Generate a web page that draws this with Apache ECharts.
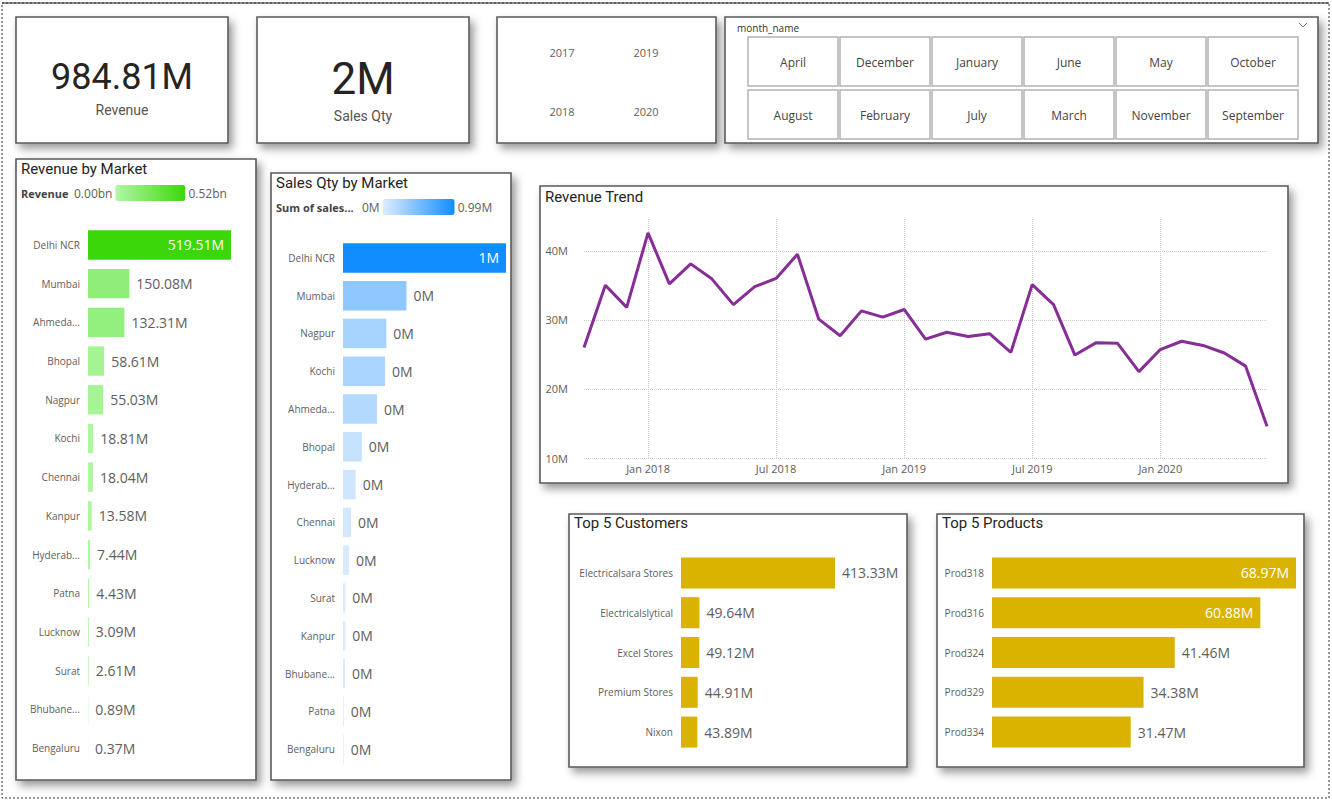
<!DOCTYPE html>
<html><head><meta charset="utf-8">
<script src="https://cdn.jsdelivr.net/npm/echarts@6/dist/echarts.min.js"></script>
<style>html,body{margin:0;padding:0;background:#fff}#c{width:1332px;height:801px}</style>
</head><body><div id="c"></div>
<script>
// ---------- data ----------
const kpiRevenue = '984.81M';
const kpiQty = '2M';
const years = ['2017', '2018', '2019', '2020'];
const monthNames = ['April', 'August', 'December', 'February', 'January', 'July', 'June', 'March', 'May', 'November', 'October', 'September'];

const revMarkets = ['Delhi NCR', 'Mumbai', 'Ahmedabad', 'Bhopal', 'Nagpur', 'Kochi', 'Chennai', 'Kanpur', 'Hyderabad', 'Patna', 'Lucknow', 'Surat', 'Bhubaneshwar', 'Bengaluru'];
const revValues = [519.51, 150.08, 132.31, 58.61, 55.03, 18.81, 18.04, 13.58, 7.44, 4.43, 3.09, 2.61, 0.89, 0.37];

const qtyMarkets = ['Delhi NCR', 'Mumbai', 'Nagpur', 'Kochi', 'Ahmedabad', 'Bhopal', 'Hyderabad', 'Chennai', 'Lucknow', 'Surat', 'Kanpur', 'Bhubaneshwar', 'Patna', 'Bengaluru'];
const qtyValues = [989000, 385000, 263000, 255000, 206000, 114000, 77000, 49000, 36000, 14000, 14000, 12000, 5000, 4000];

const trendMonths = ['Oct 2017', 'Nov 2017', 'Dec 2017',
  'Jan 2018', 'Feb 2018', 'Mar 2018', 'Apr 2018', 'May 2018', 'Jun 2018', 'Jul 2018', 'Aug 2018', 'Sep 2018', 'Oct 2018', 'Nov 2018', 'Dec 2018',
  'Jan 2019', 'Feb 2019', 'Mar 2019', 'Apr 2019', 'May 2019', 'Jun 2019', 'Jul 2019', 'Aug 2019', 'Sep 2019', 'Oct 2019', 'Nov 2019', 'Dec 2019',
  'Jan 2020', 'Feb 2020', 'Mar 2020', 'Apr 2020', 'May 2020', 'Jun 2020'];
const trendValues = [26.0, 35.0, 31.8,
  42.6, 35.2, 38.1, 35.9, 32.2, 34.8, 36.0, 39.5, 30.1, 27.7, 31.3, 30.4,
  31.5, 27.2, 28.2, 27.6, 28.0, 25.3, 35.1, 32.2, 24.9, 26.7, 26.6, 22.5,
  25.7, 26.9, 26.3, 25.2, 23.3, 14.6];

const customers = ['Electricalsara Stores', 'Electricalslytical', 'Excel Stores', 'Premium Stores', 'Nixon'];
const customerValues = [413.33, 49.64, 49.12, 44.91, 43.89];

const products = ['Prod318', 'Prod316', 'Prod324', 'Prod329', 'Prod334'];
const productValues = [68.97, 60.88, 41.46, 34.38, 31.47];

// ---------- styles ----------
const UI = "'Segoe UI', 'Open Sans', sans-serif";
const DIN = "'DIN', Roboto, sans-serif";
const GREY = '#605E5C';
const GOLD = '#D9B300';

function pairData(values, cats, insideFrac) {
  const max = Math.max(...values);
  return values.map((v, i) => {
    const d = { value: [v, cats[i]] };
    if (insideFrac && v >= insideFrac * max) d.label = { position: 'insideRight', color: '#fff' };
    return d;
  });
}
function catAxis(gi, data, truncate) {
  return {
    type: 'category', gridIndex: gi, data: data, inverse: true,
    axisLine: { show: false }, axisTick: { show: false }, splitLine: { show: false },
    axisLabel: Object.assign({ color: GREY, fontSize: 10, fontFamily: UI, margin: 8 },
      truncate ? { width: 52, overflow: 'truncate', ellipsis: '...' } : {})
  };
}
function valAxis(gi) {
  return { type: 'value', gridIndex: gi, min: 0, max: 'dataMax', show: false };
}
const barLabel = { show: true, position: 'right', distance: 7, color: GREY, fontSize: 14, fontFamily: UI };

// ---------- graphic (panels & text) ----------
const panels = [
  [16, 17, 212, 126], [257, 17, 212, 126], [497, 17, 219, 126], [725, 17, 593, 126],
  [16, 159, 240, 621], [271, 173, 240, 607], [540, 186, 748, 297], [569, 514, 338, 253], [937, 514, 367, 253]
];
const g = [];
g.push({ type: 'rect', silent: true, z: -20, shape: { x: 2, y: 3, width: 1327, height: 795 },
  style: { fill: 'none', stroke: '#333', lineWidth: 1, lineDash: [2, 2] } });
g.push({ type: 'line', silent: true, z: -19, shape: { x1: 2, y1: 3, x2: 1329, y2: 3 }, style: { stroke: '#222', lineWidth: 1.2 } });
panels.forEach(p => g.push({ type: 'rect', silent: true, z: -10,
  shape: { x: p[0], y: p[1], width: p[2], height: p[3] },
  style: { fill: '#fff', stroke: '#5a5a5a', lineWidth: 1.6, shadowBlur: 9, shadowOffsetX: 4, shadowOffsetY: 5, shadowColor: 'rgba(0,0,0,0.4)' } }));
function txt(x, y, text, font, fill, align) {
  return { type: 'text', silent: true, z: 10, x: x, y: y,
    style: { text: text, font: font, fill: fill, textAlign: align || 'left', textVerticalAlign: 'middle' } };
}
// KPI cards
g.push(txt(122, 77, kpiRevenue, '36px ' + DIN, '#252423', 'center'));
g.push(txt(122, 110, 'Revenue', '14px ' + DIN, '#555', 'center'));
g.push(txt(363, 79, kpiQty, '44px ' + DIN, '#252423', 'center'));
g.push(txt(363, 116, 'Sales Qty', '14px ' + DIN, '#555', 'center'));
// year slicer
years.forEach((y, i) => {
  const col = Math.floor(i / 2), row = i % 2;
  g.push(txt(562 + col * 84, 52 + row * 59, y, '11px ' + UI, GREY, 'center'));
});
// month slicer
g.push(txt(737, 28, 'month_name', '10px ' + UI, '#333', 'left'));
g.push({ type: 'polyline', silent: true, z: 10, shape: { points: [[1299, 23], [1303, 27], [1307, 23]] }, style: { stroke: '#777', fill: 'none', lineWidth: 1 } });
monthNames.forEach((m, i) => {
  const col = Math.floor(i / 2), row = i % 2;
  const x = 748 + col * 92, y = 37 + row * 53;
  g.push({ type: 'rect', silent: true, z: 5, shape: { x: x, y: y, width: 90, height: 49 },
    style: { fill: '#fff', stroke: '#b3b3b3', lineWidth: 1.5 } });
  g.push(txt(x + 45, y + 25, m, '12px ' + UI, '#444', 'center'));
});
// titles
const TF = '15px ' + DIN;
g.push(txt(21, 169, 'Revenue by Market', TF, '#252423'));
g.push(txt(276, 183, 'Sales Qty by Market', TF, '#252423'));
g.push(txt(545, 197, 'Revenue Trend', TF, '#252423'));
g.push(txt(574, 523, 'Top 5 Customers', TF, '#252423'));
g.push(txt(942, 523, 'Top 5 Products', TF, '#252423'));
// legend captions
g.push(txt(21, 193, 'Revenue', 'bold 11px ' + UI, '#444'));
g.push(txt(276, 207, 'Sum of sales...', 'bold 11px ' + UI, '#444'));

const halfYear = (i, v) => v.startsWith('Jan') || v.startsWith('Jul');

const option = {
  animation: false,
  backgroundColor: '#fff',
  graphic: { elements: g },
  grid: [
    { left: 88, top: 225.6, width: 143, height: 541.8 },
    { left: 343, top: 239, width: 163, height: 529 },
    { left: 584, top: 219, width: 683, height: 239 },
    { left: 681, top: 553, width: 154, height: 199 },
    { left: 992, top: 553, width: 304, height: 199 }
  ],
  xAxis: [
    valAxis(0), valAxis(1),
    { type: 'category', gridIndex: 2, data: trendMonths, boundaryGap: false,
      axisLine: { show: false }, axisTick: { show: false },
      axisLabel: { interval: halfYear, color: GREY, fontSize: 11, fontFamily: UI, margin: 5 },
      splitLine: { show: true, interval: halfYear, lineStyle: { type: 'dotted', color: '#ccc' } } },
    valAxis(3), valAxis(4)
  ],
  yAxis: [
    catAxis(0, revMarkets, true), catAxis(1, qtyMarkets, true),
    { type: 'value', gridIndex: 2, min: 10, max: 44.6, interval: 10,
      axisLine: { show: false }, axisTick: { show: false },
      axisLabel: { showMaxLabel: false, color: GREY, fontSize: 11, fontFamily: UI, margin: 16,
        formatter: v => (v % 10 === 0 ? v + 'M' : '') },
      splitLine: { show: true, showMaxLine: false, lineStyle: { type: 'dotted', color: '#ccc' } } },
    catAxis(3, customers, false), catAxis(4, products, false)
  ],
  visualMap: [
    { type: 'continuous', seriesIndex: 0, dimension: 0, min: 0, max: 519.51, orient: 'horizontal',
      left: 59, top: 170, itemWidth: 16, itemHeight: 70, text: ['0.52bn', '0.00bn'], textGap: 3,
      calculable: false, hoverLink: false, inRange: { color: ['#B1F8A5', '#3CD70A'] },
      textStyle: { color: GREY, fontSize: 12, fontFamily: UI } },
    { type: 'continuous', seriesIndex: 1, dimension: 0, min: 0, max: 989000, orient: 'horizontal',
      left: 347, top: 184, itemWidth: 16, itemHeight: 72, text: ['0.99M', '0M'], textGap: 3,
      calculable: false, hoverLink: false, inRange: { color: ['#DEEDFF', '#118DFF'] },
      textStyle: { color: GREY, fontSize: 12, fontFamily: UI } }
  ],
  series: [
    { type: 'bar', xAxisIndex: 0, yAxisIndex: 0, barCategoryGap: '24%', data: pairData(revValues, revMarkets, 0.8),
      label: Object.assign({}, barLabel, { formatter: p => p.value[0].toFixed(2) + 'M' }) },
    { type: 'bar', xAxisIndex: 1, yAxisIndex: 1, barCategoryGap: '22%', data: pairData(qtyValues, qtyMarkets, 0.8),
      label: Object.assign({}, barLabel, { formatter: p => Math.round(p.value[0] / 1e6) + 'M' }) },
    { type: 'line', xAxisIndex: 2, yAxisIndex: 2, data: trendValues, symbol: 'none',
      lineStyle: { color: '#862D96', width: 3 }, itemStyle: { color: '#862D96' } },
    { type: 'bar', xAxisIndex: 3, yAxisIndex: 3, barCategoryGap: '22%', data: pairData(customerValues, customers, 0),
      itemStyle: { color: GOLD }, label: Object.assign({}, barLabel, { formatter: p => p.value[0].toFixed(2) + 'M' }) },
    { type: 'bar', xAxisIndex: 4, yAxisIndex: 4, barCategoryGap: '22%', data: pairData(productValues, products, 0.8),
      itemStyle: { color: GOLD }, label: Object.assign({}, barLabel, { formatter: p => p.value[0].toFixed(2) + 'M' }) }
  ]
};
const chart = echarts.init(document.getElementById('c'), null, { renderer: 'svg' });
chart.setOption(option);
</script>
</body></html>
